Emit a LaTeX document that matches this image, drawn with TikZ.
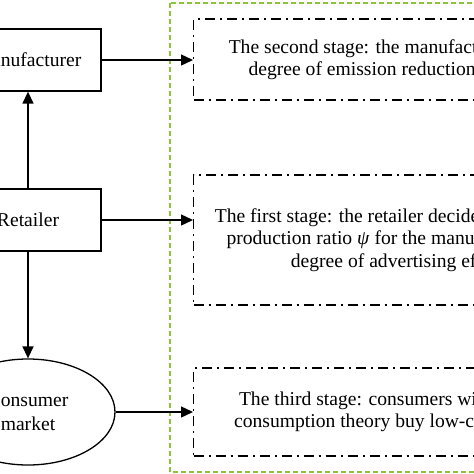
\documentclass[tikz,border=0pt]{standalone}
\usepackage{fontspec}
\setmainfont{Liberation Serif}
\usetikzlibrary{arrows.meta,shapes.geometric}
\definecolor{stagegreen}{RGB}{140,195,60}
\tikzset{
	player/.style={draw, line width=1.3pt, minimum width=146pt, minimum height=62pt},
	stagebox/.style={draw, line width=1.3pt, dash pattern=on 10pt off 5pt on 2pt off 5pt, anchor=west, align=center},
	flow/.style={line width=1.4pt, -{Triangle[length=12pt,width=11pt]}},
}
\begin{document}
\begin{tikzpicture}[x=1pt,y=-1pt,font=\fontsize{19.6}{22.5}\selectfont]
	\useasboundingbox (0,0) rectangle (474,474);
	\clip (0,0) rectangle (474,474);

	% players
	\node[player] (manu) at (28,60) {Manufacturer};
	\node[player] (retailer) at (28,220) {Retailer};
	\node[draw, ellipse, line width=1.3pt, minimum width=174pt, minimum height=106pt, align=center] (market) at (28,412) {Consumer\\[2pt]market};

	% stages of the game
	\draw[stagegreen, line width=2.2pt, dash pattern=on 5pt off 3pt] (170,3) rectangle (600,472);
	\node[stagebox, minimum width=443pt, minimum height=81pt] (second) at (193,59.5) {The second stage: the manufacturer decides the\\degree of emission reduction and the price};
	\node[stagebox, minimum width=408pt, minimum height=130pt] (first) at (193,240) {The first stage: the retailer decides the optimal\\production ratio \textit{ψ} for the manufacturer and\\degree of advertising effort};
	\node[stagebox, minimum width=438pt, minimum height=88pt] (third) at (193,412) {The third stage: consumers with low-carbon\\consumption theory buy low-carbon products};

	% arrows
	\draw[flow] (retailer) -- (manu);
	\draw[flow] (retailer) -- (market);
	\draw[flow] (manu.east) -- (manu.east -| second.west);
	\draw[flow] (retailer.east) -- (retailer.east -| first.west);
	\draw[flow] (market.east) -- (market.east -| third.west);
\end{tikzpicture}
\end{document}
